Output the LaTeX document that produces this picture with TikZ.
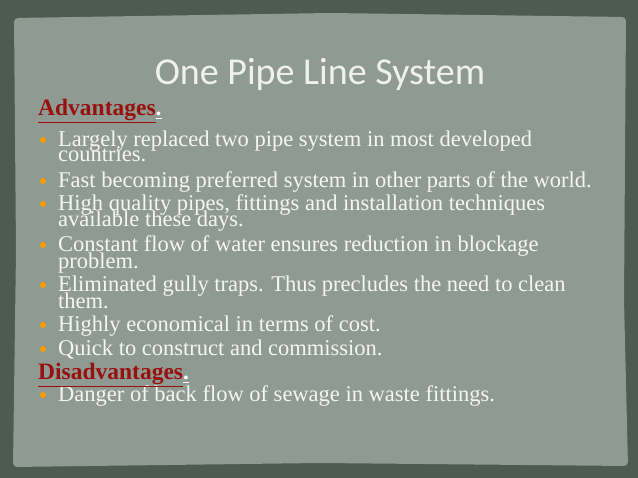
\documentclass[tikz,border=0pt]{standalone}
\usepackage{fontspec}
\setmainfont{Liberation Serif}
\newfontfamily\titlefont{Carlito}
\definecolor{paper}{HTML}{8E9A92}
\definecolor{frame}{HTML}{4C5C4E}
\definecolor{bodytxt}{HTML}{F4F6F2}
\definecolor{headred}{HTML}{9A1010}
\begin{document}
\begin{tikzpicture}[x=1pt,y=-1pt,
  txt/.style={anchor=base west,inner sep=0pt,text=bodytxt,font=\fontsize{22.5}{22}\selectfont},
  hd/.style={anchor=base west,inner sep=0pt,text=headred,font=\bfseries\fontsize{23.5}{23}\selectfont},
  bul/.style={circle,fill=orange!80!yellow,inner sep=0pt,minimum size=6pt}]
\fill[frame] (0,0) rectangle (638,478);
\useasboundingbox (0,0) rectangle (638,478);
\fill[paper, rounded corners=4pt] (14,18) -- (330,13) -- (626,17) -- (624,300) -- (628,466) -- (320,463) -- (13,467) -- (16,250) -- cycle;
\node[anchor=base,text=white!88!gray,font=\titlefont\fontsize{38}{38}\selectfont] (title) at (320,85) {One Pipe Line System};
\node[hd] (adv) at (38,116) {\underline{Advantages}\textcolor{white}{\underline{.}}};
\foreach \y/\t in {
 147/{Largely replaced two pipe system in most developed},
 162/{countries.},
 188/{Fast becoming preferred system in other parts of the world.},
 211/{High quality pipes, fittings and installation techniques},
 227/{available these days.},
 252/{Constant flow of water ensures reduction in blockage},
 269/{problem.},
 292/{Eliminated gully traps. Thus precludes the need to clean},
 309/{them.},
 332/{Highly economical in terms of cost.},
 356/{Quick to construct and commission.},
 402/{Danger of back flow of sewage in waste fittings.}}
 {\node[txt] (t\y) at (58,\y) {\t};}
\foreach \y in {147,188,211,252,292,332,356,402}
 {\node[bul] (b\y) at (43,\y-7) {};}
\node[hd] (dis) at (38,380) {\underline{Disadvantages}\textcolor{white}{\underline{.}}};
\end{tikzpicture}
\end{document}
